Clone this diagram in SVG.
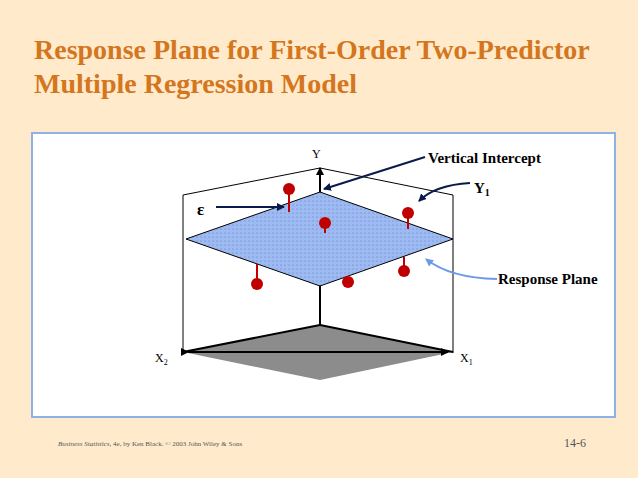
<svg xmlns="http://www.w3.org/2000/svg" width="638" height="478" viewBox="0 0 638 478">
<defs>
<pattern id="dots" width="4" height="4" patternUnits="userSpaceOnUse"><rect width="4" height="4" fill="#9DBAF2"/><circle cx="1" cy="1" r="0.6" fill="#5A78B8"/></pattern>
<marker id="ab" markerWidth="8" markerHeight="8" refX="7" refY="4" orient="auto" markerUnits="userSpaceOnUse"><path d="M0,0 L8,4 L0,8 z" fill="#0A1A4A"/></marker>
<marker id="al" markerWidth="8" markerHeight="8" refX="7" refY="4" orient="auto" markerUnits="userSpaceOnUse"><path d="M0,0 L8,4 L0,8 z" fill="#6C9AE8"/></marker>
<marker id="ak" markerWidth="8" markerHeight="8" refX="7" refY="4" orient="auto" markerUnits="userSpaceOnUse"><path d="M0,0 L8,4 L0,8 z" fill="#000"/></marker>
<style>
.t{font-family:"Liberation Serif",serif;fill:#000}
.b{font-weight:bold;font-size:15px}
.ln{stroke:#000;stroke-width:1;fill:none}
.st{stroke:#C00000;stroke-width:2}
.pt{fill:#C00000}
</style>
</defs>
<rect width="638" height="478" fill="#FFEBCC"/>
<text class="t" x="34" y="59" font-size="28" font-weight="bold" style="fill:#D4761E">Response Plane for First-Order Two-Predictor</text>
<text class="t" x="34" y="93" font-size="28" font-weight="bold" style="fill:#D4761E">Multiple Regression Model</text>
<rect x="32" y="133" width="583" height="284" fill="#fff" stroke="#8FB0E8" stroke-width="2"/>
<g id="box">
<polyline class="ln" points="183,353 183,195 320,168 453,195 453,353"/>
<polygon points="320,325 453,352 320,380 183,352" fill="#8C8C8C"/>
<line x1="320" y1="325" x2="183" y2="352" stroke="#000" stroke-width="2"/>
<line x1="320" y1="325" x2="453" y2="352" stroke="#000" stroke-width="2"/>
<line x1="188" y1="352" x2="448" y2="352" stroke="#000" stroke-width="2" marker-end="url(#ak)" marker-start="url(#ak)"/>
<line x1="320" y1="325" x2="320" y2="168" stroke="#000" stroke-width="2" marker-end="url(#ak)"/>
</g>
<g id="plane"><polygon points="320,192 453,239 320,286 186,239" fill="url(#dots)" stroke="#000" stroke-width="1"/></g>
<g id="points">
<line class="st" x1="289" y1="190" x2="289" y2="212"/><ellipse class="pt" cx="289" cy="189" rx="6" ry="6"/>
<line class="st" x1="325" y1="223" x2="325" y2="233"/><ellipse class="pt" cx="325" cy="223" rx="6" ry="6"/>
<line class="st" x1="408" y1="213" x2="408" y2="229"/><ellipse class="pt" cx="408" cy="213" rx="6" ry="6"/>
<line class="st" x1="257" y1="264" x2="257" y2="284"/><ellipse class="pt" cx="257" cy="284" rx="6" ry="6"/>
<ellipse class="pt" cx="348" cy="282" rx="6" ry="6"/>
<line class="st" x1="404" y1="257" x2="404" y2="271"/><ellipse class="pt" cx="404" cy="271" rx="6" ry="6"/>
</g>
<g id="connectors">
<line x1="425" y1="157" x2="324" y2="189" stroke="#0A1A4A" stroke-width="2" marker-end="url(#ab)"/>
<path d="M470,183 Q435,185 419,201" stroke="#0A1A4A" stroke-width="2" fill="none" marker-end="url(#ab)"/>
<line x1="216" y1="207" x2="284" y2="207" stroke="#0A1A4A" stroke-width="2" marker-end="url(#ab)"/>
<path d="M497,279 Q450,278 426,259" stroke="#6C9AE8" stroke-width="2" fill="none" marker-end="url(#al)"/>
</g>
<g id="labels">
<text class="t" x="312" y="158" font-size="12">Y</text>
<text class="t b" x="428" y="163">Vertical Intercept</text>
<text class="t b" x="474" y="193">Y<tspan font-size="10" dy="3">1</tspan></text>
<text class="t b" x="197" y="215" style="font-size:17px">ε</text>
<text class="t b" x="498" y="284">Response Plane</text>
<text class="t" x="155" y="362" font-size="12">X<tspan font-size="8" dy="3">2</tspan></text>
<text class="t" x="460" y="362" font-size="12">X<tspan font-size="8" dy="3">1</tspan></text>
<text class="t" x="58" y="446" font-size="7" style="fill:#555"><tspan font-style="italic">Business Statistics</tspan>, 4e, by Ken Black. © 2003 John Wiley &amp; Sons</text>
<text class="t" x="564" y="447" font-size="12" style="fill:#555">14-6</text>
</g>
</svg>
